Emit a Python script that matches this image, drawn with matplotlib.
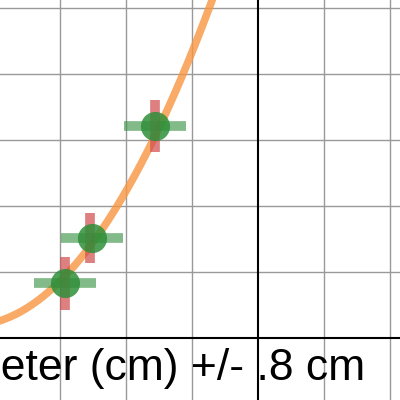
import matplotlib.pyplot as plt
import numpy as np

plt.rcParams['font.family'] = ['Liberation Sans', 'DejaVu Sans']

# measured points (grid units)
x_vals = [-2.92, -2.52, -1.56]
y_vals = [0.83, 1.52, 3.21]
x_err = [0.47, 0.47, 0.47]
y_err = [0.40, 0.38, 0.40]
red_x = [-2.92, -2.55, -1.56]

# fitted curve samples
curve_x = [-3.91, -2.92, -2.52, -1.56, -0.68]
curve_y = [0.30, 0.83, 1.45, 3.15, 5.12]

fig = plt.figure(figsize=(4, 4), dpi=100)
ax = fig.add_axes([0, 0, 1, 1])
ax.set_xlim(-3.91, 2.15)
ax.set_ylim(-0.94, 5.12)

for gx in [-3, -2, -1, 1, 2]:
    ax.axvline(gx, color='#999999', lw=1, zorder=0)
for gy in [1, 2, 3, 4, 5]:
    ax.axhline(gy, color='#999999', lw=1, zorder=0)
ax.axvline(0, color='black', lw=1.5, zorder=1)
ax.axhline(0, color='black', lw=1.5, zorder=1)

coef = np.polyfit(curve_x, curve_y, 2)
xs = np.linspace(-4, 0, 200)
ax.plot(xs, np.polyval(coef, xs), color='#f79540', lw=5.5, alpha=0.8, zorder=2)

ax.errorbar(x_vals, y_vals, xerr=x_err, fmt='none', ecolor='#2f8f3a',
            elinewidth=7, alpha=0.6, zorder=3)
ax.errorbar(red_x, y_vals, yerr=y_err, fmt='none', ecolor='#d0494b',
            elinewidth=7, alpha=0.7, zorder=4)
ax.scatter(x_vals, y_vals, s=440, color='#2f8f3a', alpha=0.85, zorder=5, lw=0)

ax.text(1.62, -0.47, 'Diameter (cm) +/- .8 cm', ha='right', va='center',
        fontsize=32, color='black')
ax.set_xticks([])
ax.set_yticks([])
for s in ax.spines.values():
    s.set_visible(False)

fig.savefig('out.png', dpi=100)
